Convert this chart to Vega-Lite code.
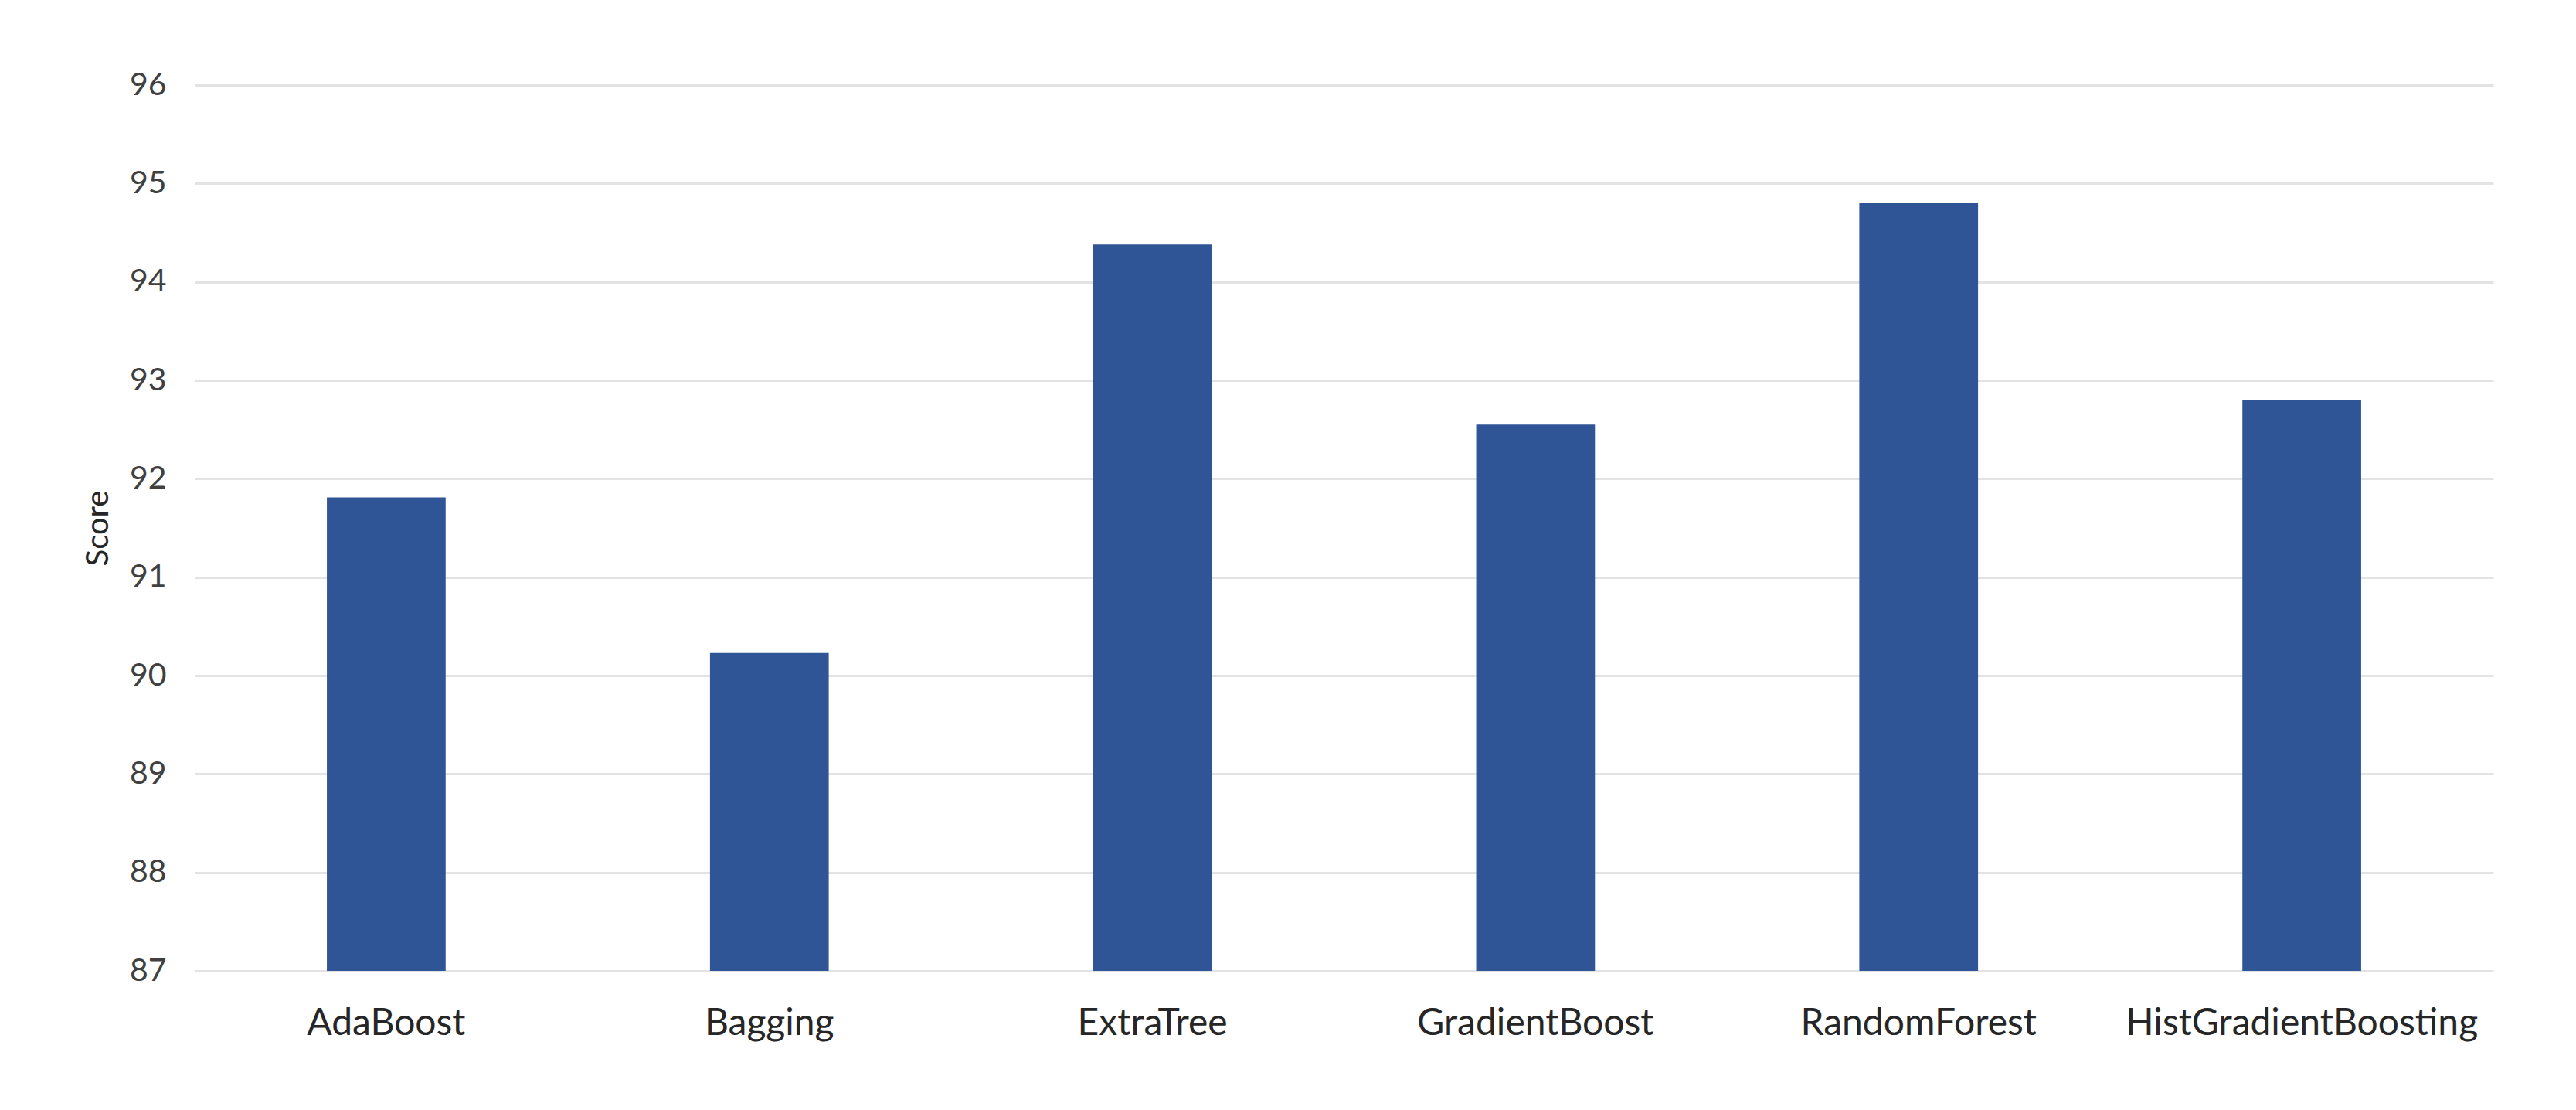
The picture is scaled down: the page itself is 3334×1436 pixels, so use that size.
{
  "$schema": "https://vega.github.io/schema/vega-lite/v6.json",
  "autosize": {"type": "none"},
  "padding": {"left": 252, "top": 110, "right": 107, "bottom": 180},
  "width": 2975,
  "height": 1146,
  "background": "white",
  "data": {
    "values": [
      {"model": "AdaBoost", "score": 91.81},
      {"model": "Bagging", "score": 90.23},
      {"model": "ExtraTree", "score": 94.38},
      {"model": "GradientBoost", "score": 92.55},
      {"model": "RandomForest", "score": 94.8},
      {"model": "HistGradientBoosting", "score": 92.8}
    ]
  },
  "mark": {"type": "bar", "color": "#2f5597"},
  "encoding": {
    "x": {
      "field": "model",
      "type": "nominal",
      "sort": null,
      "scale": {"paddingInner": 0.69, "paddingOuter": 0.345},
      "axis": {
        "title": null,
        "labelAngle": 0,
        "labelFont": "Lato",
        "labelFontSize": 48,
        "labelColor": "#262626",
        "labelPadding": 44,
        "labelLimit": 0,
        "labelOverlap": false,
        "ticks": false,
        "domain": false,
        "grid": false
      }
    },
    "y": {
      "field": "score",
      "type": "quantitative",
      "scale": {"domain": [87, 96], "nice": false, "zero": false},
      "axis": {
        "values": [87, 88, 89, 90, 91, 92, 93, 94, 95, 96],
        "title": "Score",
        "titleFont": "Lato",
        "titleFontSize": 40,
        "titleFontWeight": "normal",
        "titleColor": "#262626",
        "titlePadding": 20,
        "labelFont": "Lato",
        "labelFontSize": 41,
        "labelColor": "#404040",
        "labelPadding": 37,
        "ticks": false,
        "domain": false,
        "grid": true,
        "gridColor": "#e3e3e3",
        "gridWidth": 3
      }
    },
    "y2": {"datum": 87}
  },
  "config": {
    "view": {"stroke": null}
  }
}
